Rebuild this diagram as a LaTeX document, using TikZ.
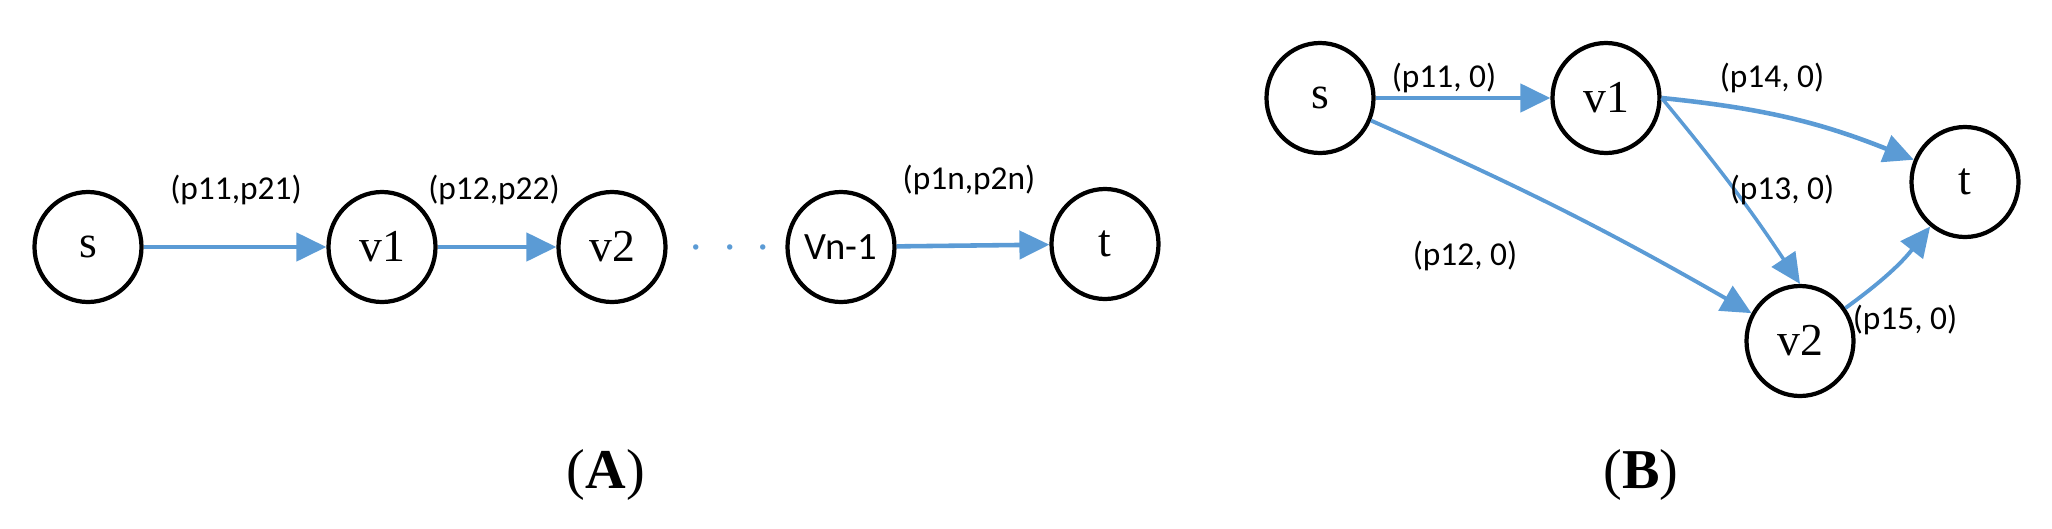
\documentclass[tikz,border=0pt]{standalone}
\usepackage{fontspec}
\setmainfont{Liberation Serif}
\newfontfamily\lblfont{Carlito}
\usetikzlibrary{arrows.meta,shapes.geometric}
\definecolor{eblue}{RGB}{91,155,213}
\tikzset{
  vert/.style={draw=black, line width=1.2pt, ellipse, minimum width=1.07cm, minimum height=1.1cm, inner sep=0pt, font=\fontsize{13}{13}\selectfont},
  edge/.style={draw=eblue, line width=1.3pt, -{Triangle[length=3mm,width=2.8mm]}},
  elbl/.style={font=\lblfont\fontsize{9.5}{10}\selectfont, inner sep=1pt},
  captxt/.style={font=\fontsize{16}{16}\selectfont}
}
\begin{document}
\begin{tikzpicture}[x=1cm,y=-1cm]
\useasboundingbox (0,0) rectangle (20.52,5.28);
% Panel A
\node[vert] (as) at (0.88,2.47) {s};
\node[vert] (av1) at (3.82,2.47) {v1};
\node[vert] (av2) at (6.12,2.47) {v2};
\node[vert] (avn) at (8.41,2.47) {\lblfont\fontsize{11}{11}\selectfont Vn-1};
\node[vert] (at) at (11.05,2.44) {t};
\node[font=\fontsize{13}{13}\selectfont, text=eblue] (dots) at (7.30,2.47) {.\hspace{0.22cm}.\hspace{0.22cm}.};
\draw[edge] (as) -- (av1);
\draw[edge] (av1) -- (av2);
\draw[edge] (avn) -- (at);
\node[elbl] (l1) at (2.36,1.90) {(p11,p21)};
\node[elbl] (l2) at (4.94,1.90) {(p12,p22)};
\node[elbl] (l3) at (9.69,1.80) {(p1n,p2n)};
\node[captxt] (capA) at (6.06,4.75) {(\textbf{A})};
% Panel B
\node[vert] (bs) at (13.20,0.98) {s};
\node[vert] (bv1) at (16.06,0.98) {v1};
\node[vert] (bt) at (19.65,1.82) {t};
\node[vert] (bv2) at (18.00,3.41) {v2};
\draw[edge] (bs) -- (bv1);
\draw[edge] (bv1.east) to[bend left=8] (bt);
\draw[edge, line width=1pt] (bv1.east) to[bend left=3] (bv2.north);
\draw[edge, line width=1.1pt] (bs) to[bend left=3] (bv2);
\draw[edge, line width=1.1pt] (bv2) to[bend right=8] (bt);
\node[elbl] (m1) at (14.44,0.78) {(p11, 0)};
\node[elbl] (m2) at (17.72,0.78) {(p14, 0)};
\node[elbl] (m3) at (17.82,1.90) {(p13, 0)};
\node[elbl] (m4) at (14.65,2.56) {(p12, 0)};
\node[elbl] (m5) at (19.05,3.20) {(p15, 0)};
\node[captxt] (capB) at (16.41,4.75) {(\textbf{B})};
\end{tikzpicture}
\end{document}
